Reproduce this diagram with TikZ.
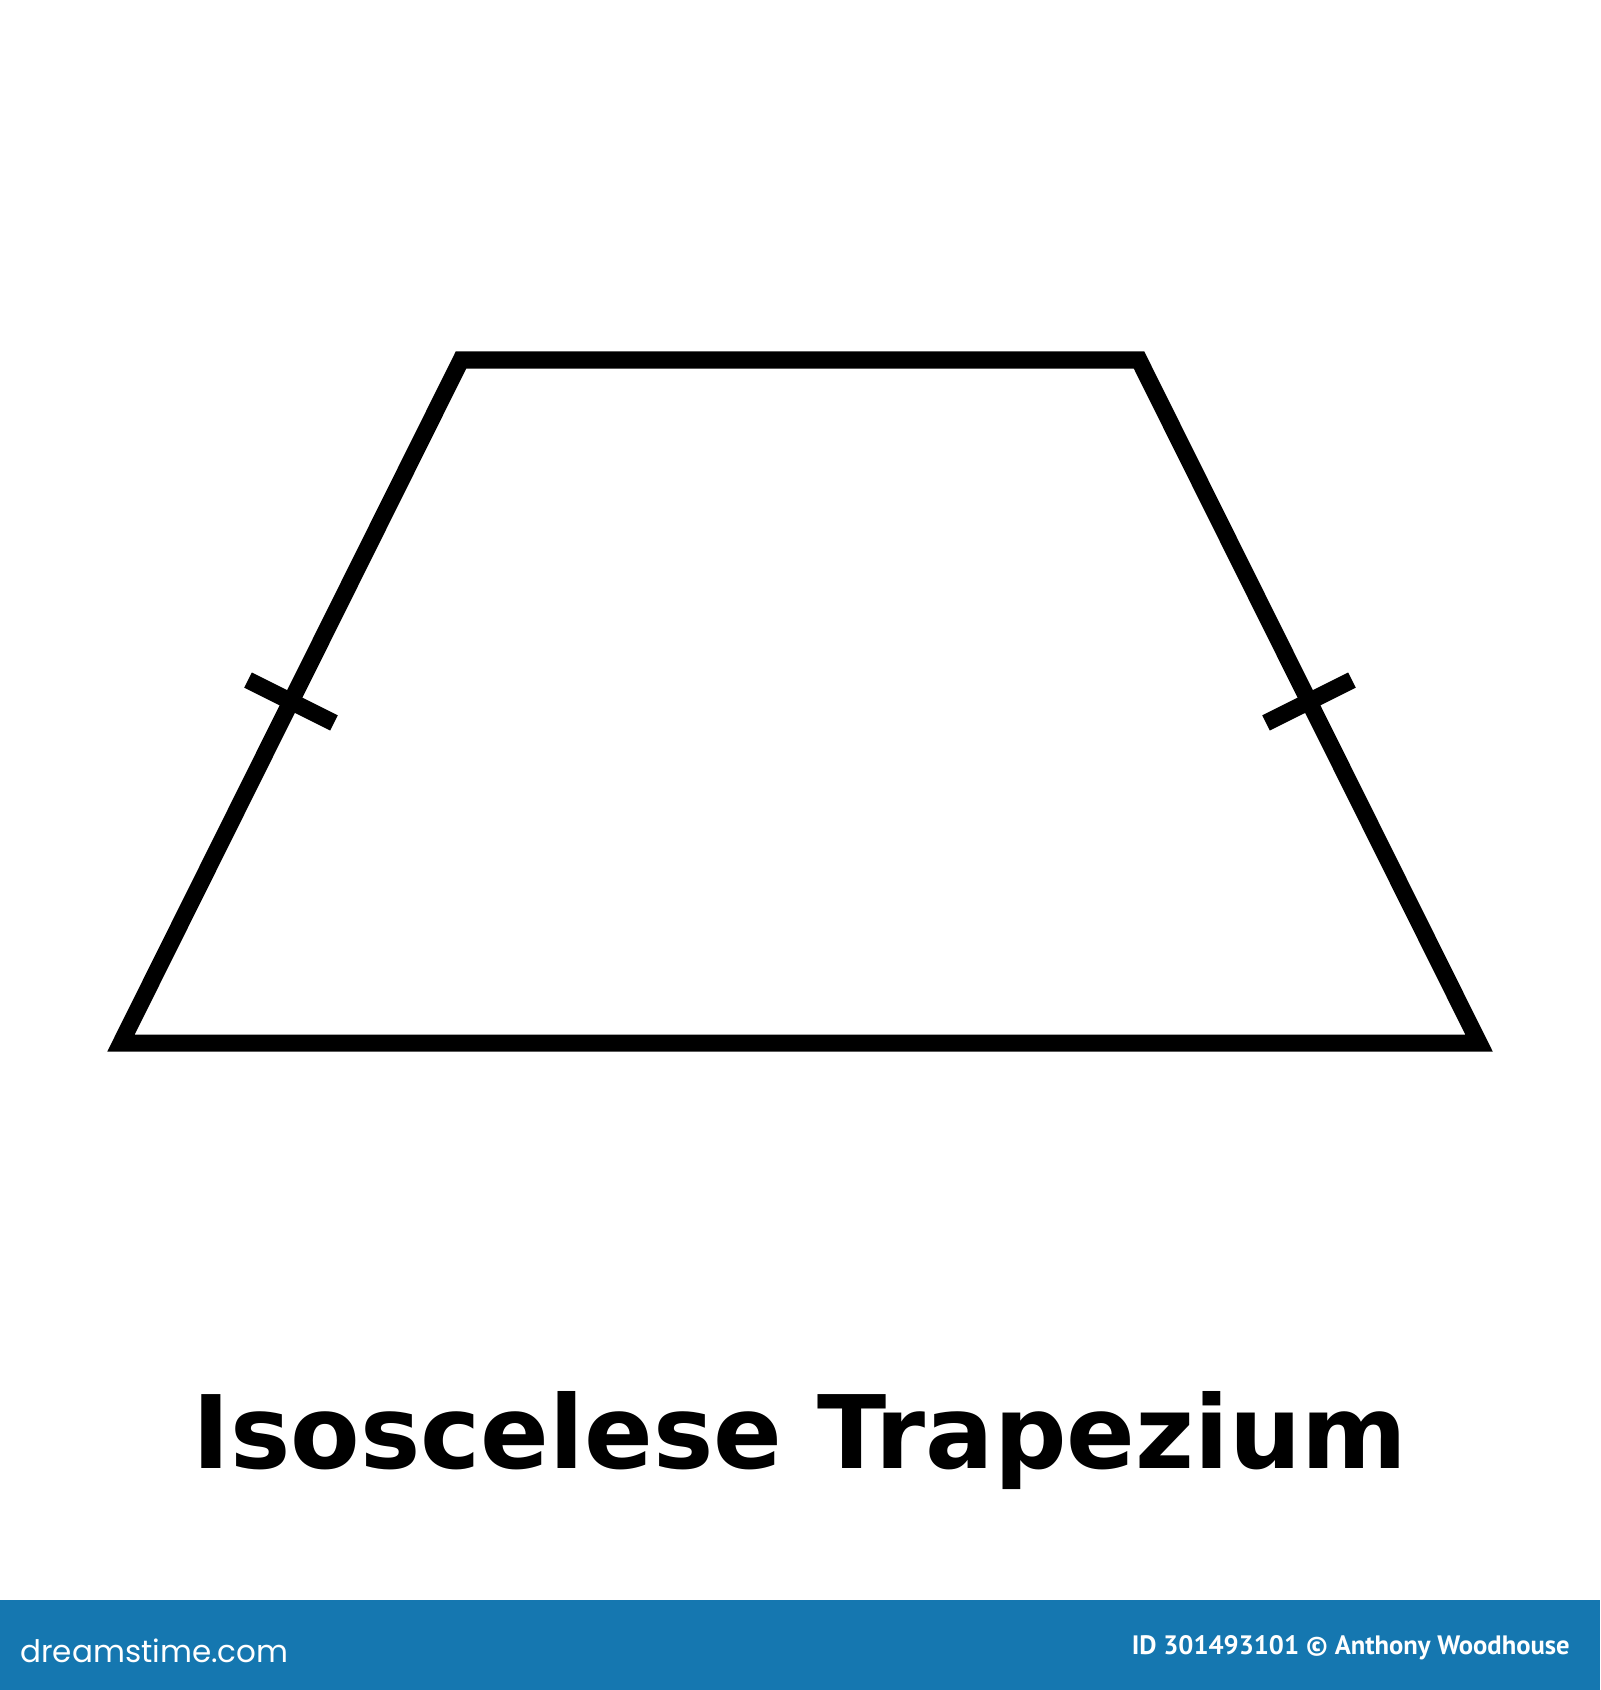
\documentclass[tikz,border=0pt]{standalone}
\usepackage{fontspec}
\usetikzlibrary{calc}
\newfontfamily\titlefont{DejaVu Sans}
\newfontfamily\logofont{Poppins}
\newfontfamily\creditfont{PT Sans}
\definecolor{bannerblue}{HTML}{1577B0}

\begin{document}
\begin{tikzpicture}[x=0.5pt,y=-0.5pt,line join=miter]
        \useasboundingbox (0,0) rectangle (1600,1690);
        \fill[white] (0,0) rectangle (1600,1690);

        % corners of the trapezium
        \coordinate (tl) at (461,360);
        \coordinate (tr) at (1139,360);
        \coordinate (br) at (1479,1043);
        \coordinate (bl) at (121,1043);
        \draw[line width=8.5pt] (tl) -- (tr) -- (br) -- (bl) -- cycle;

        % equal sides
        \coordinate (ml) at ($(bl)!0.5!(tl)$);
        \coordinate (mr) at ($(br)!0.5!(tr)$);
        \draw[line width=8.5pt] ($(ml)!24pt!90:(tl)$) -- ($(ml)!24pt!-90:(tl)$);
        \draw[line width=8.5pt] ($(mr)!24pt!90:(tr)$) -- ($(mr)!24pt!-90:(tr)$);

        \node[font=\titlefont\bfseries\fontsize{50.7pt}{60pt}\selectfont, anchor=base]
            (title) at (800,1468) {Isoscelese Trapezium};

        % banner
        \fill[bannerblue] (0,1600) rectangle (1600,1690);
        \node[anchor=base west, inner sep=0pt, text=white,
              font=\logofont\fontsize{15.5pt}{18pt}\selectfont] (logo) at (20,1662) {dreamstime.com};
        \node[anchor=base east, inner sep=0pt, text=white,
              font=\creditfont\bfseries\fontsize{13.3pt}{16pt}\selectfont] (credit) at (1570,1654)
              {ID 301493101 \textcopyright{} Anthony Woodhouse};
    \end{tikzpicture}
\end{document}
